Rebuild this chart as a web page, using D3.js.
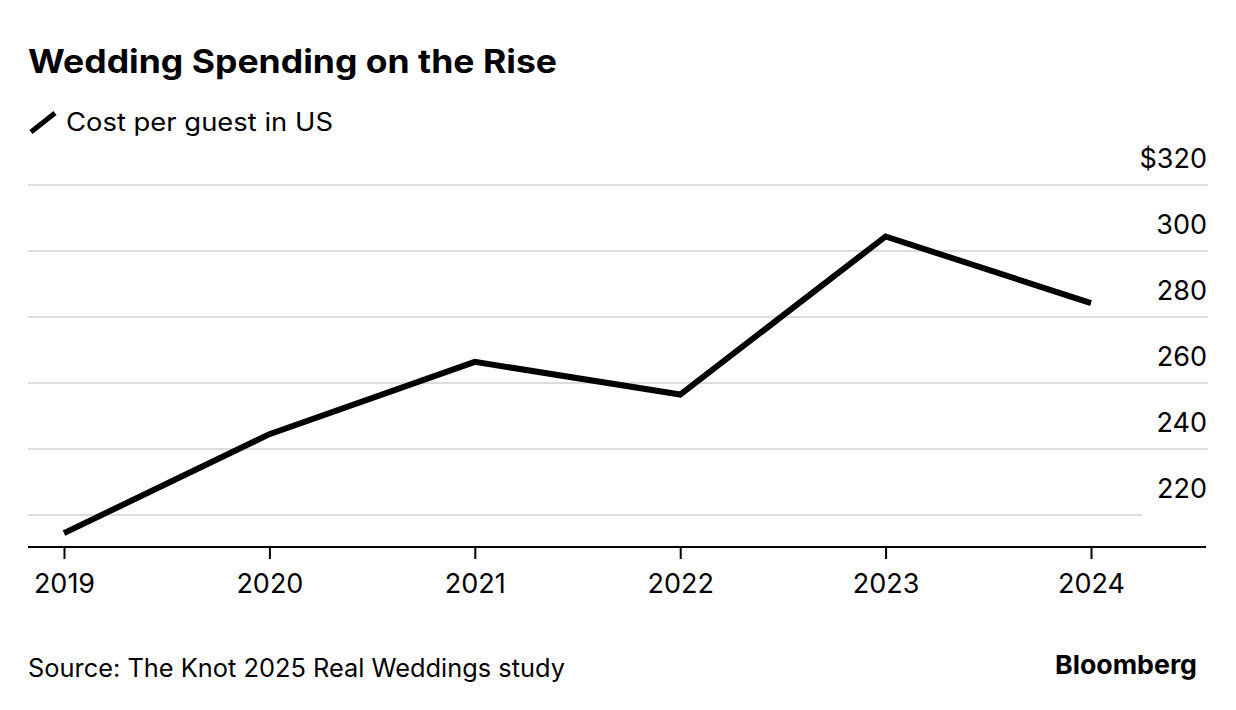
<!DOCTYPE html>
<html lang="en">
<head>
  <meta charset="UTF-8" />
  <title>Wedding Spending on the Rise</title>
  <script src="https://cdn.jsdelivr.net/npm/d3@7/dist/d3.min.js"></script>
  <style>
    html, body { margin: 0; padding: 0; background: #fff; }
    svg { display: block; font-family: Inter, "Liberation Sans", Arial, sans-serif; }
  </style>
</head>
<body>
  <div id="chart"></div>
  <script>
    // data
    const years = ["2019", "2020", "2021", "2022", "2023", "2024"];
    const costPerGuest = [214.5, 244.5, 266.4, 256.5, 304.4, 284.2];
    const yTicks = [220, 240, 260, 280, 300, 320];

    const width = 1236, height = 710;
    const left = 28, right = 1208;
    const baseY = 547;

    const svg = d3.select("#chart").append("svg")
      .attr("width", width)
      .attr("height", height);

    // title + legend (stretched a bit, the original face is wider than Inter)
    svg.append("text")
      .attr("x", 28).attr("y", 73)
      .attr("font-size", 32).attr("font-weight", "bold")
      .attr("textLength", 529).attr("lengthAdjust", "spacingAndGlyphs")
      .attr("fill", "#000")
      .text("Wedding Spending on the Rise");

    svg.append("line")
      .attr("x1", 31).attr("y1", 132).attr("x2", 55).attr("y2", 113)
      .attr("stroke", "#000").attr("stroke-width", 5);
    svg.append("text")
      .attr("x", 66).attr("y", 131)
      .attr("font-size", 25)
      .attr("textLength", 267).attr("lengthAdjust", "spacingAndGlyphs")
      .attr("fill", "#000")
      .text("Cost per guest in US");

    // scales
    const x = d3.scalePoint().domain(years).range([64, 1091]);
    const y = d3.scaleLinear().domain([220, 320]).range([515, 185]);

    // gridlines
    svg.append("g")
      .selectAll("line")
      .data(yTicks)
      .join("line")
      .attr("x1", left)
      .attr("x2", d => d === 220 ? 1142 : right)
      .attr("y1", d => y(d)).attr("y2", d => y(d))
      .attr("stroke", "#dcdcdc").attr("stroke-width", 2);

    // y labels on the right
    svg.append("g")
      .selectAll("text")
      .data(yTicks)
      .join("text")
      .attr("x", right - 1)
      .attr("y", d => y(d) - 17)
      .attr("text-anchor", "end")
      .attr("font-size", 27).attr("fill", "#000")
      .text(d => d === 320 ? "$" + d : d);

    // x axis
    const xAxis = d3.axisBottom(x).tickSize(12).tickPadding(15);
    const gx = svg.append("g")
      .attr("transform", `translate(0,${baseY})`)
      .call(xAxis);
    gx.select(".domain").remove();
    gx.insert("line", ":first-child")
      .attr("x1", left).attr("x2", 1206)
      .attr("stroke", "#000").attr("stroke-width", 2);
    gx.selectAll(".tick line").attr("stroke", "#000").attr("stroke-width", 2);
    gx.selectAll(".tick text")
      .attr("font-size", 27).attr("fill", "#000")
      .attr("font-family", "Inter, Liberation Sans, Arial, sans-serif");

    // the line
    const line = d3.line()
      .x((d, i) => x(years[i]))
      .y(d => y(d));
    svg.append("path")
      .datum(costPerGuest)
      .attr("d", line)
      .attr("fill", "none")
      .attr("stroke", "#000")
      .attr("stroke-width", 6)
      .attr("stroke-linejoin", "miter")
      .attr("stroke-linecap", "butt");

    // footer
    svg.append("text")
      .attr("x", 28).attr("y", 677)
      .attr("font-size", 25)
      .attr("textLength", 537).attr("lengthAdjust", "spacingAndGlyphs")
      .attr("fill", "#000")
      .text("Source: The Knot 2025 Real Weddings study");
    svg.append("text")
      .attr("x", 1055).attr("y", 674)
      .attr("font-size", 26).attr("font-weight", "bold")
      .attr("textLength", 142).attr("lengthAdjust", "spacingAndGlyphs")
      .attr("fill", "#000")
      .text("Bloomberg");
  </script>
</body>
</html>
